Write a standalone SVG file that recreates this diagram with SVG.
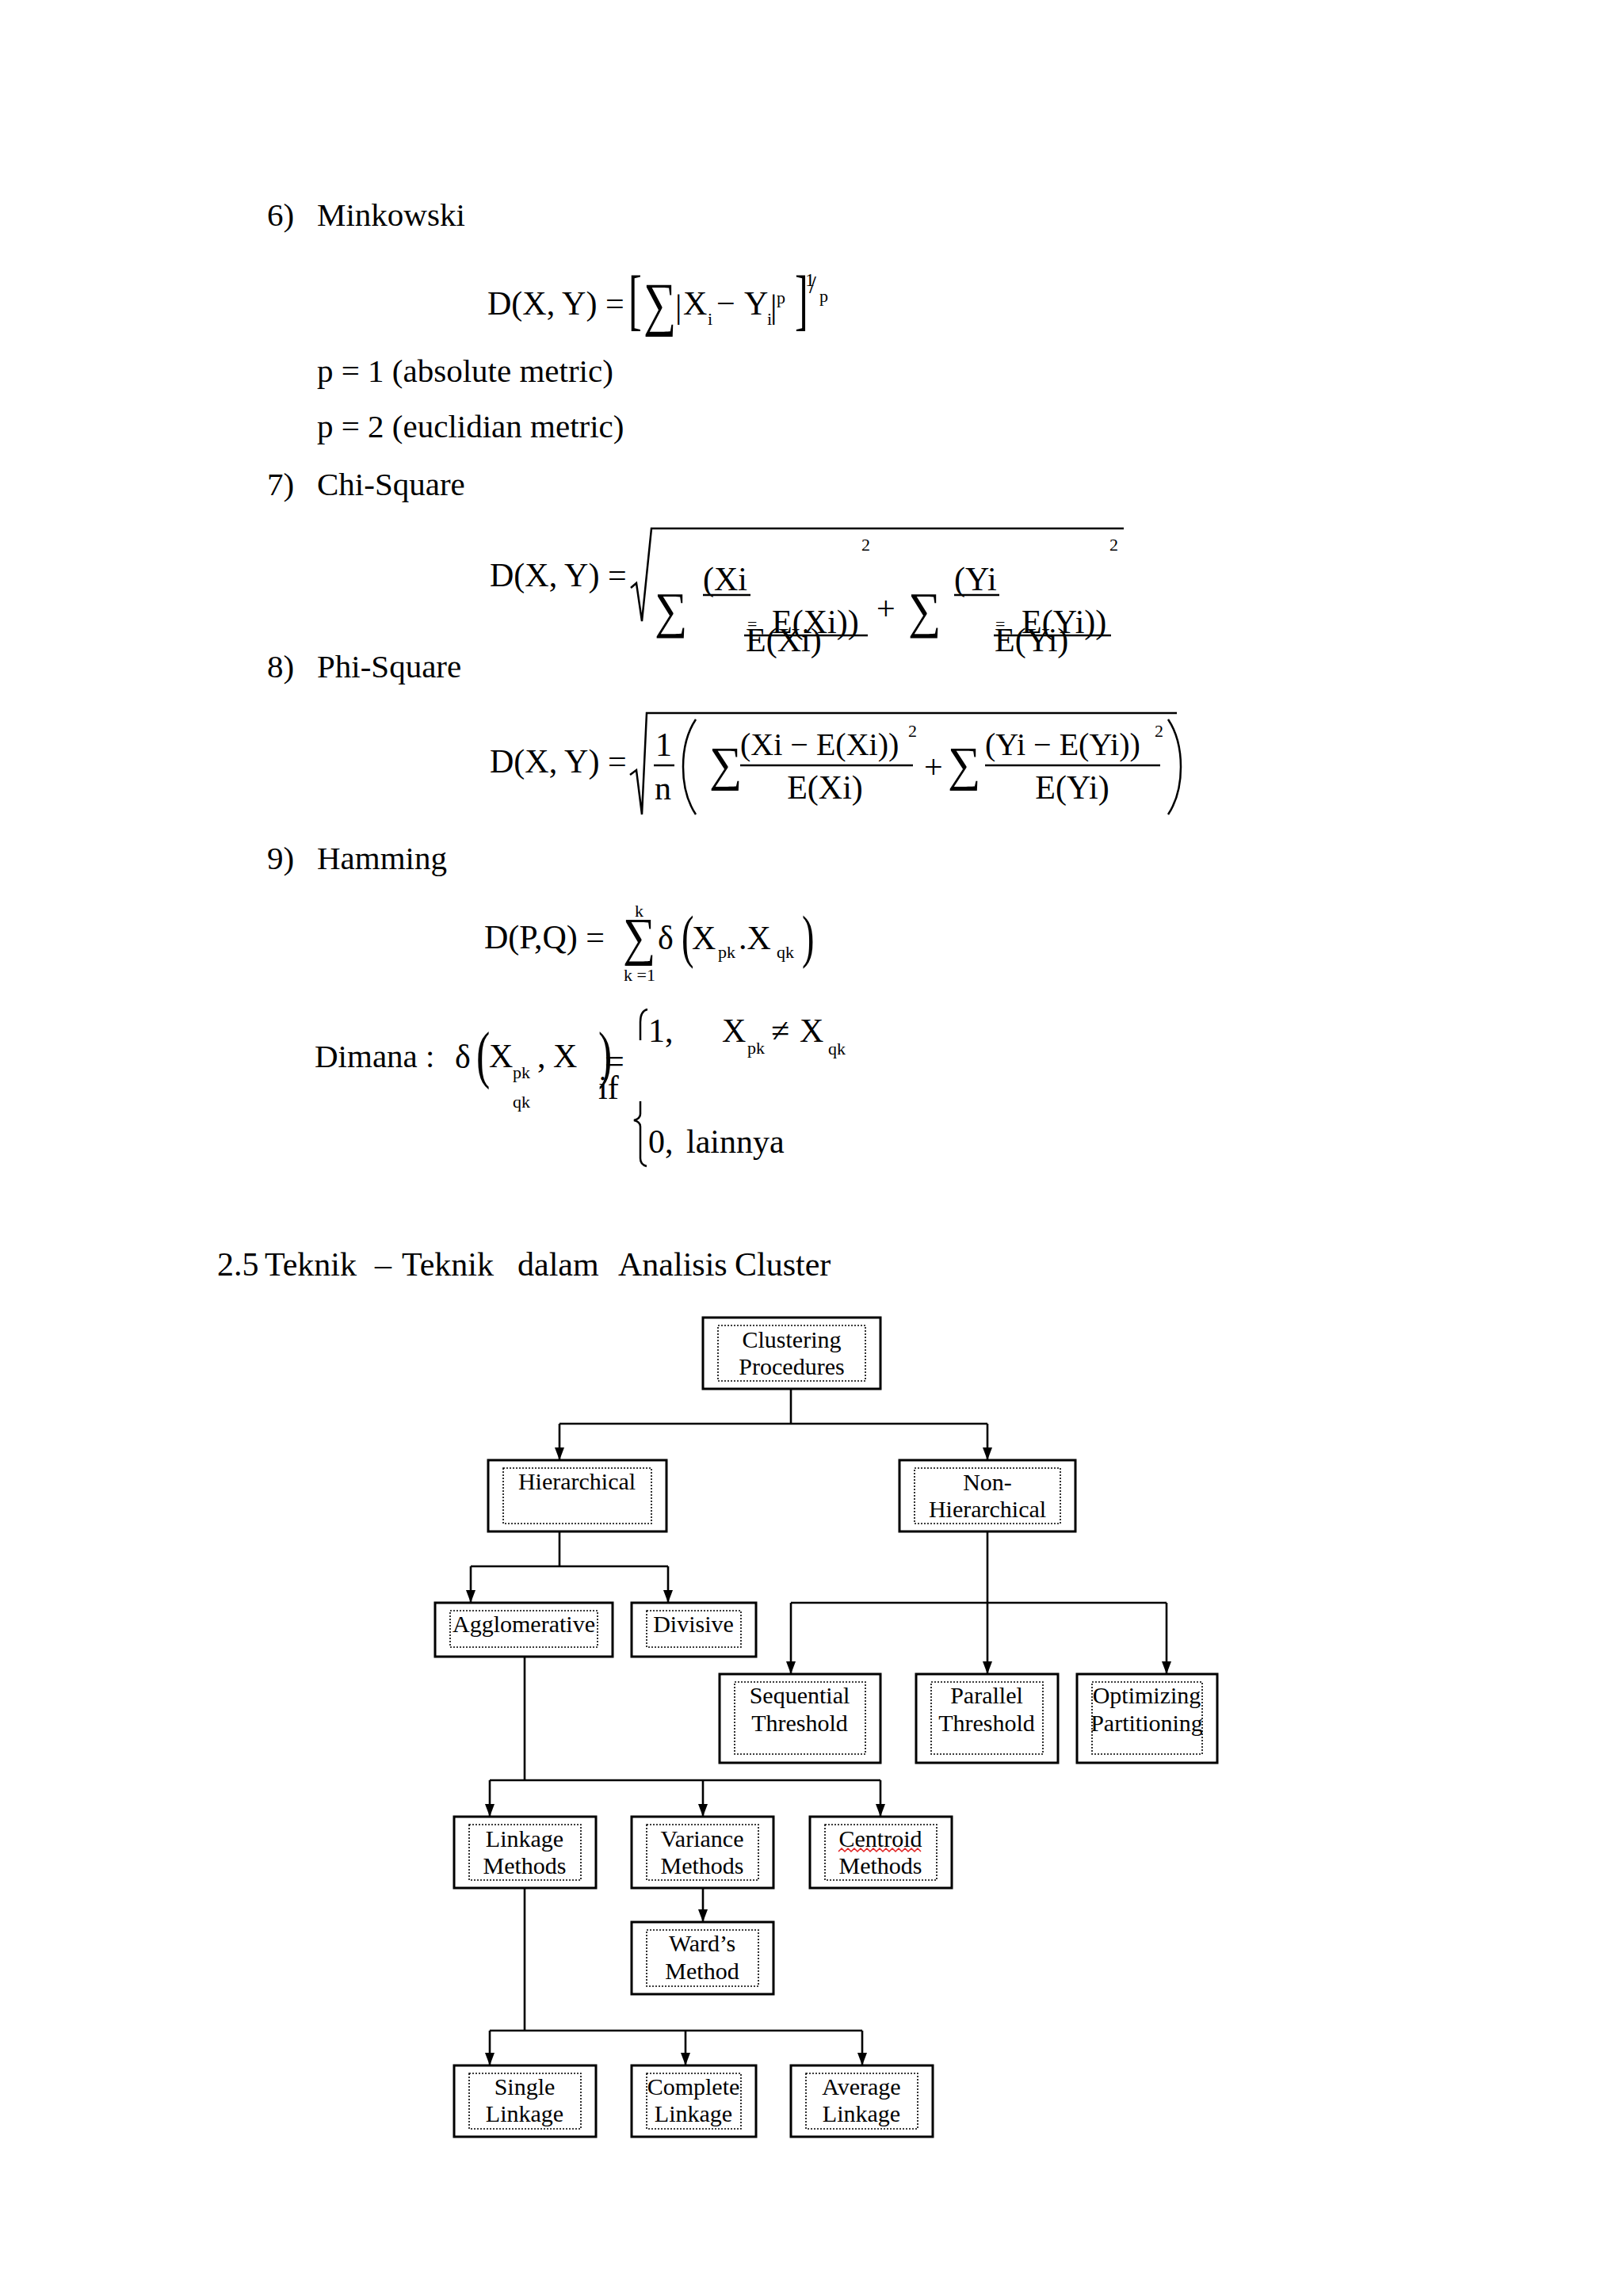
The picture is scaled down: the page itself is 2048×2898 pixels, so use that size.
<svg xmlns="http://www.w3.org/2000/svg" width="2048" height="2898" viewBox="0 0 2048 2898">
<style>
text{font-family:"Liberation Serif","Times New Roman",serif;fill:#000}
.b{font-size:41px}
.m{font-size:42px}
.s{font-size:22px}
.sig{font-size:58px;font-family:"Liberation Serif","DejaVu Serif",serif}
.lbl{font-size:30px;text-anchor:middle}
.box{fill:#fff;stroke:#000;stroke-width:3}
.in{fill:none;stroke:#000;stroke-width:1.6;stroke-dasharray:2 2}
.ln{fill:none;stroke:#000;stroke-width:2.5}
.c{fill:none;stroke:#000;stroke-width:2.6}
.a{fill:none;stroke:#000;stroke-width:2.6;marker-end:url(#ah)}
</style>
<defs>
<marker id="ah" viewBox="0 0 16 12" refX="16" refY="6" markerWidth="16" markerHeight="12" markerUnits="userSpaceOnUse" orient="auto">
<path d="M0,0 L16,6 L0,12 z" fill="#000"/>
</marker>
</defs>
<rect width="2048" height="2898" fill="#fff"/>

<g id="minkowski">
<text class="b" x="337" y="285">6)</text>
<text class="b" x="400" y="285">Minkowski</text>
<text class="m" x="615" y="397">D(X, Y) =</text>
<text class="m" transform="translate(793,407) scale(0.6,1)" style="font-size:84px">[</text>
<text class="sig" transform="translate(812,409) scale(1,1.3)">∑</text>
<text class="m" x="852" y="401">|</text>
<text class="m" x="862" y="397">X</text>
<text class="s" x="893" y="410">i</text>
<text class="m" x="904" y="397">−</text>
<text class="m" x="939" y="397">Y</text>
<text class="s" x="968" y="410">i</text>
<text class="m" x="972" y="401">|</text>
<text class="s" x="980" y="383">p</text>
<text class="m" transform="translate(1003,407) scale(0.6,1)" style="font-size:84px">]</text>
<text class="s" x="1016" y="361" style="font-size:24px">1</text>
<text class="s" x="1021" y="370" style="font-size:32px">/</text>
<text class="s" x="1034" y="381">p</text>
<text class="b" x="400" y="482">p = 1 (absolute metric)</text>
<text class="b" x="400" y="552">p = 2 (euclidian metric)</text>
</g>

<g id="chi-square">
<text class="b" x="337" y="625">7)</text>
<text class="b" x="400" y="625">Chi-Square</text>
<text class="m" x="618" y="740">D(X, Y) =</text>
<path class="ln" d="M796 742 L803 736 L810 784 L822 667 L1418 667" stroke-width="2"/>
<text class="sig" transform="translate(826,792) scale(1,1.1)">∑</text>
<text class="m" x="887" y="745">(Xi</text>
<path class="ln" d="M887 751 H947"/>
<text class="s" x="1087" y="695">2</text>
<text class="s" x="943" y="795">=</text>
<text class="m" x="974" y="799">E(Xi))</text>
<text class="m" x="941" y="822">E(Xi)</text>
<path class="ln" d="M939 802 H1095"/>
<text class="m" x="1106" y="782">+</text>
<text class="sig" transform="translate(1146,792) scale(1,1.1)">∑</text>
<text class="m" x="1204" y="745">(Yi</text>
<path class="ln" d="M1204 751 H1261"/>
<text class="s" x="1400" y="695">2</text>
<text class="s" x="1256" y="795">=</text>
<text class="m" x="1289" y="799">E(Yi))</text>
<text class="m" x="1255" y="822">E(Yi)</text>
<path class="ln" d="M1254 802 H1402"/>
</g>

<g id="phi-square">
<text class="b" x="337" y="855">8)</text>
<text class="b" x="400" y="855">Phi-Square</text>
<text class="m" x="618" y="975">D(X, Y) =</text>
<path class="ln" d="M795 978 L803 972 L810 1028 L816 900 L1485 900" stroke-width="2"/>
<text class="m" x="827" y="954">1</text>
<path class="ln" d="M825 966 H851" stroke-width="2"/>
<text class="m" x="826" y="1009">n</text>
<path class="ln" d="M878 908 Q862 932 862 968 Q862 1004 878 1028" stroke-width="2.2"/>
<text class="sig" transform="translate(895,985) scale(1,1.05)">∑</text>
<text class="m" x="934" y="953" style="font-size:40px">(Xi − E(Xi))</text>
<text class="s" x="1146" y="930">2</text>
<path class="ln" d="M934 966 H1152"/>
<text class="m" x="1166" y="982">+</text>
<text class="m" x="1041" y="1008" text-anchor="middle">E(Xi)</text>
<text class="sig" transform="translate(1196,985) scale(1,1.05)">∑</text>
<text class="m" x="1243" y="953" style="font-size:40px">(Yi − E(Yi))</text>
<text class="s" x="1457" y="930">2</text>
<path class="ln" d="M1243 966 H1464"/>
<text class="m" x="1353" y="1008" text-anchor="middle">E(Yi)</text>
<path class="ln" d="M1474 908 Q1490 932 1490 968 Q1490 1004 1474 1028" stroke-width="2.2"/>
</g>

<g id="hamming">
<text class="b" x="337" y="1097">9)</text>
<text class="b" x="400" y="1097">Hamming</text>
<text class="m" x="611" y="1197">D(P,Q) =</text>
<text class="s" x="801" y="1157">k</text>
<text class="sig" transform="translate(786,1205) scale(1,1.15)">∑</text>
<text class="s" x="787" y="1238">k =1</text>
<text class="m" x="830" y="1198">δ</text>
<text class="m" transform="translate(860,1207) scale(0.62,1)" style="font-size:75px">(</text>
<text class="m" x="873" y="1198">X</text>
<text class="s" x="906" y="1209">pk</text>
<text class="m" x="932" y="1198">.X</text>
<text class="s" x="980" y="1209">qk</text>
<text class="m" transform="translate(1012,1207) scale(0.62,1)" style="font-size:75px">)</text>
</g>

<g id="dimana">
<text class="b" x="397" y="1347">Dimana :</text>
<text class="m" x="574" y="1348">δ</text>
<text class="m" transform="translate(601,1358) scale(0.65,1)" style="font-size:80px">(</text>
<text class="m" x="617" y="1347">X</text>
<text class="s" x="647" y="1361">pk</text>
<text class="m" x="678" y="1347">,</text>
<text class="m" x="698" y="1347">X</text>
<text class="s" x="647" y="1398">qk</text>
<text class="m" transform="translate(755,1358) scale(0.65,1)" style="font-size:80px">)</text>
<text class="m" x="763" y="1354" style="font-size:44px">=</text>
<text class="m" x="755" y="1387">if</text>
<path class="ln" d="M817 1274 Q808 1276 808 1290 L808 1313" stroke-width="3"/>
<path class="ln" d="M808 1390 L808 1406 Q808 1412 800 1414 Q808 1416 808 1422 L808 1462 Q808 1470 816 1472" stroke-width="3"/>
<text class="m" x="818" y="1315">1,</text>
<text class="m" x="911" y="1315">X</text>
<text class="s" x="943" y="1330">pk</text>
<text class="m" x="973" y="1315">≠</text>
<text class="m" x="1009" y="1315">X</text>
<text class="s" x="1045" y="1331">qk</text>
<text class="m" x="818" y="1455">0,</text>
<text class="m" x="866" y="1455">lainnya</text>
</g>

<g id="heading">
<text class="m" y="1610"><tspan x="274">2.5</tspan><tspan x="334">Teknik</tspan><tspan x="473">–</tspan><tspan x="507">Teknik</tspan><tspan x="653">dalam</tspan><tspan x="780">Analisis</tspan><tspan x="927">Cluster</tspan></text>
</g>

<g id="connectors">
<path class="c" d="M998 1753 V1797 M706 1797 H1246"/>
<path class="a" d="M706 1797 V1843"/>
<path class="a" d="M1246 1797 V1843"/>
<path class="c" d="M706 1933 V1977 M594 1977 H843"/>
<path class="a" d="M594 1977 V2023"/>
<path class="a" d="M843 1977 V2023"/>
<path class="c" d="M998 2023 H1472"/>
<path class="a" d="M1246 1933 V2113"/>
<path class="a" d="M998 2023 V2113"/>
<path class="a" d="M1472 2023 V2113"/>
<path class="c" d="M662 2091 V2247 M618 2247 H1111"/>
<path class="a" d="M618 2247 V2293"/>
<path class="a" d="M887 2247 V2293"/>
<path class="a" d="M1111 2247 V2293"/>
<path class="a" d="M887 2383 V2426"/>
<path class="c" d="M662 2383 V2563 M618 2563 H1088"/>
<path class="a" d="M618 2563 V2607"/>
<path class="a" d="M865 2563 V2607"/>
<path class="a" d="M1088 2563 V2607"/>
</g>

<g id="n-clustering">
<rect class="box" x="887" y="1663" width="224" height="90"/>
<rect class="in" x="906" y="1673" width="186" height="70"/>
<text class="lbl" x="999" y="1701">Clustering</text>
<text class="lbl" x="999" y="1735">Procedures</text>
</g>
<g id="n-hierarchical">
<rect class="box" x="616" y="1843" width="225" height="90"/>
<rect class="in" x="635" y="1853" width="187" height="70"/>
<text class="lbl" x="728" y="1880">Hierarchical</text>
</g>
<g id="n-nonhierarchical">
<rect class="box" x="1135" y="1843" width="222" height="90"/>
<rect class="in" x="1154" y="1853" width="184" height="70"/>
<text class="lbl" x="1246" y="1881">Non-</text>
<text class="lbl" x="1246" y="1915">Hierarchical</text>
</g>
<g id="n-agglomerative">
<rect class="box" x="549" y="2023" width="224" height="68"/>
<rect class="in" x="568" y="2033" width="186" height="46"/>
<text class="lbl" x="661" y="2060">Agglomerative</text>
</g>
<g id="n-divisive">
<rect class="box" x="797" y="2023" width="157" height="68"/>
<rect class="in" x="816" y="2033" width="119" height="46"/>
<text class="lbl" x="875" y="2060">Divisive</text>
</g>
<g id="n-sequential">
<rect class="box" x="908" y="2113" width="203" height="112"/>
<rect class="in" x="927" y="2123" width="165" height="91"/>
<text class="lbl" x="1009" y="2150">Sequential</text>
<text class="lbl" x="1009" y="2185">Threshold</text>
</g>
<g id="n-parallel">
<rect class="box" x="1156" y="2113" width="179" height="112"/>
<rect class="in" x="1175" y="2123" width="141" height="91"/>
<text class="lbl" x="1245" y="2150">Parallel</text>
<text class="lbl" x="1245" y="2185">Threshold</text>
</g>
<g id="n-optimizing">
<rect class="box" x="1359" y="2113" width="177" height="112"/>
<rect class="in" x="1378" y="2123" width="139" height="91"/>
<text class="lbl" x="1447" y="2150">Optimizing</text>
<text class="lbl" x="1447" y="2185">Partitioning</text>
</g>
<g id="n-linkage">
<rect class="box" x="573" y="2293" width="179" height="90"/>
<rect class="in" x="592" y="2303" width="141" height="70"/>
<text class="lbl" x="662" y="2331">Linkage</text>
<text class="lbl" x="662" y="2365">Methods</text>
</g>
<g id="n-variance">
<rect class="box" x="797" y="2293" width="179" height="90"/>
<rect class="in" x="816" y="2303" width="141" height="70"/>
<text class="lbl" x="886" y="2331">Variance</text>
<text class="lbl" x="886" y="2365">Methods</text>
</g>
<g id="n-centroid">
<rect class="box" x="1022" y="2293" width="179" height="90"/>
<rect class="in" x="1041" y="2303" width="141" height="70"/>
<text class="lbl" x="1111" y="2331">Centroid</text>
<text class="lbl" x="1111" y="2365">Methods</text>
<polyline points="1058,2337 1062,2333 1066,2337 1070,2333 1074,2337 1078,2333 1082,2337 1086,2333 1090,2337 1094,2333 1098,2337 1102,2333 1106,2337 1110,2333 1114,2337 1118,2333 1122,2337 1126,2333 1130,2337 1134,2333 1138,2337 1142,2333 1146,2337 1150,2333 1154,2337 1158,2333 1162,2337" fill="none" stroke="#e02020" stroke-width="1.5"/>
</g>
<g id="n-ward">
<rect class="box" x="797" y="2426" width="179" height="91"/>
<rect class="in" x="816" y="2436" width="141" height="71"/>
<text class="lbl" x="886" y="2463">Ward’s</text>
<text class="lbl" x="886" y="2498">Method</text>
</g>
<g id="n-single">
<rect class="box" x="573" y="2607" width="179" height="90"/>
<rect class="in" x="592" y="2617" width="141" height="70"/>
<text class="lbl" x="662" y="2644">Single</text>
<text class="lbl" x="662" y="2678">Linkage</text>
</g>
<g id="n-complete">
<rect class="box" x="797" y="2607" width="157" height="90"/>
<rect class="in" x="816" y="2617" width="119" height="70"/>
<text class="lbl" x="875" y="2644">Complete</text>
<text class="lbl" x="875" y="2678">Linkage</text>
</g>
<g id="n-average">
<rect class="box" x="998" y="2607" width="179" height="90"/>
<rect class="in" x="1017" y="2617" width="141" height="70"/>
<text class="lbl" x="1087" y="2644">Average</text>
<text class="lbl" x="1087" y="2678">Linkage</text>
</g>
</svg>
